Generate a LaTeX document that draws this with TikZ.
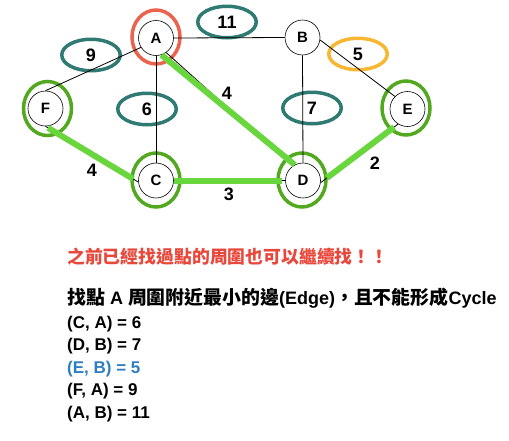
\documentclass[tikz,border=0pt]{standalone}
\usepackage{fontspec}
\setmainfont{Liberation Sans}
\newfontfamily\cjk[Scale=1.05]{Noto Sans CJK TC}
\usepackage{tikz}
\usetikzlibrary{positioning,shapes.geometric}
\definecolor{ringred}{HTML}{E9634F}
\definecolor{ringgreen}{HTML}{52A81E}
\definecolor{mstgreen}{HTML}{6AD63E}
\definecolor{wteal}{HTML}{2F7A72}
\definecolor{worange}{HTML}{F7B733}
\definecolor{notered}{HTML}{E8483B}
\definecolor{noteblue}{HTML}{2E7EC2}

\begin{document}
\begin{tikzpicture}[x=1pt, y=-1pt,
  vtx/.style={draw, circle, fill=white, minimum size=35pt, inner sep=0pt, line width=0.6pt,
              font=\bfseries\fontsize{15}{15}\selectfont},
  ring/.style={draw=#1, ellipse, line width=3.5pt, minimum width=48pt, minimum height=54pt},
  wt/.style={draw=#1, ellipse, line width=3.5pt, minimum width=58.5pt, minimum height=31.5pt,
             font=\bfseries\fontsize{18}{18}\selectfont},
  lbl/.style={font=\bfseries\fontsize{18}{18}\selectfont},
  link/.style={black, line width=0.8pt},
  mst/.style={mstgreen, line width=6pt},
  txt/.style={anchor=base west, inner sep=0pt, font=\bfseries\fontsize{17}{20}\selectfont}]
\useasboundingbox (0,0) rectangle (509,440);
% vertices
\node[vtx] (A) at (156,38) {A};
\node[vtx] (B) at (302.5,37.5) {B};
\node[vtx] (F) at (45.5,108.5) {F};
\node[vtx] (C) at (156,180.5) {C};
\node[vtx] (D) at (303,180.5) {D};
\node[vtx] (E) at (407.5,109) {E};
% visited rings
\node[ring=ringred] (rA) at (156,37) {};
\node[ring=ringgreen] (rF) at (47.5,108.5) {};
\node[ring=ringgreen] (rC) at (156,180) {};
\node[ring=ringgreen] (rD) at (302,180) {};
\node[ring=ringgreen] (rE) at (406,108) {};
% candidate weights
\node[wt=wteal] (w11) at (227,22) {11};
\node[wt=wteal] (w9) at (91,55) {9};
\node[wt=wteal] (w6) at (147,109) {6};
\node[wt=wteal] (w7) at (312,108) {7};
\node[wt=worange] (w5) at (358,54) {5};
% edges
\draw[link] (A.east) -- (B.west);
\draw[link] (A.212) -- (F.north);
\draw[link] (A.south) -- (C.north);
\draw[link] (A.-55) -- (D.125);
\draw[link] (B.south) -- (D.north);
\draw[link] (B.-8) -- (E.135);
\draw[link] (F.south) -- (C.185);
\draw[link] (C.east) -- (D.west);
\draw[link] (D.-7) -- (E.-122);
% chosen edges
\draw[mst] (A.-72) -- (D.118);
\draw[mst, shorten <=3pt, shorten >=6pt] (F.south) -- (C.185);
\draw[mst, shorten >=3pt] (C.east) -- (D.west);
\draw[mst, shorten <=8pt, shorten >=5pt] (D.-7) -- (E.-122);
\node[lbl] (l4a) at (227,93) {4};
\node[lbl] (l4b) at (92,170) {4};
\node[lbl] (l3) at (229,194) {3};
\node[lbl] (l2) at (375,163) {2};
% notes
\node[txt, text=notered] (n0) at (67,263) {\cjk 之前已經找過點的周圍也可以繼續找！！};
\node[txt, font=\bfseries\fontsize{18}{20}\selectfont] (n1) at (67,304)
  {{\cjk 找點} \textbf{A} {\cjk 周圍附近最小的邊}\textbf{(Edge)}{\cjk ，且不能形成}\textbf{Cycle}};
\node[txt] (n2) at (67,328) {(C, A) = 6};
\node[txt] (n3) at (67,350) {(D, B) = 7};
\node[txt, text=noteblue] (n4) at (67,373) {(E, B) = 5};
\node[txt] (n5) at (67,395) {(F, A) = 9};
\node[txt] (n6) at (67,418) {(A, B) = 11};
\end{tikzpicture}
\end{document}
